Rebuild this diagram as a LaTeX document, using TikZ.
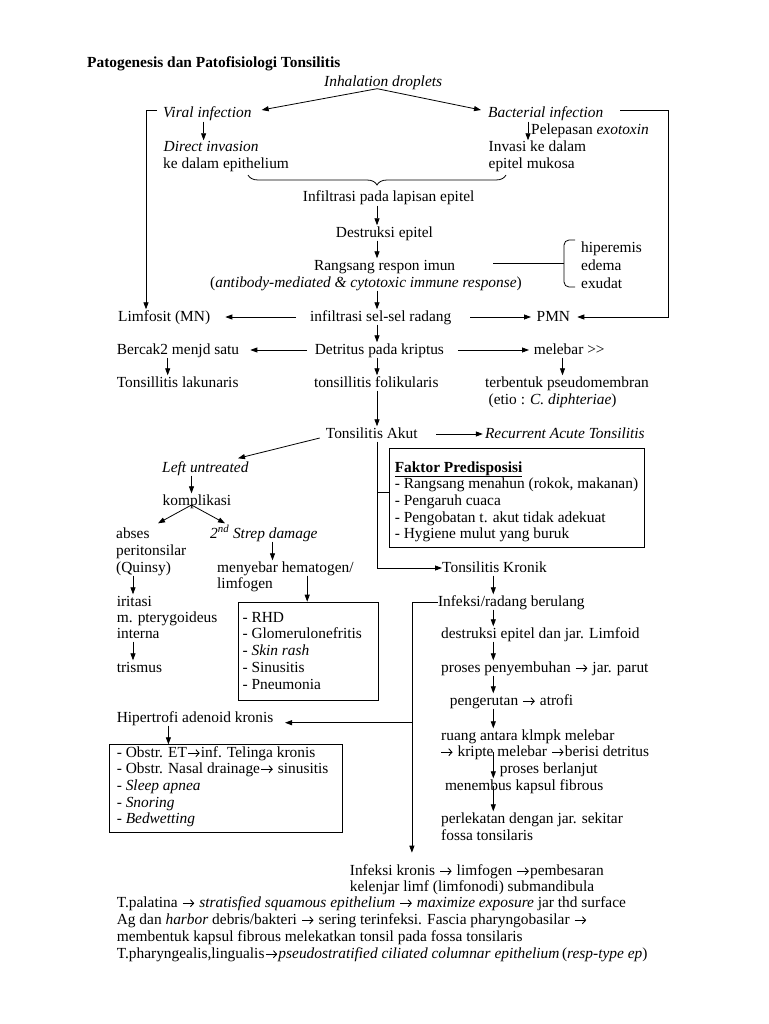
\documentclass[tikz,border=0pt]{standalone}
\usepackage{fontspec}
\setmainfont{Liberation Serif}
\usetikzlibrary{arrows.meta,calc,decorations.pathreplacing}
\newcommand\myarr{\hspace{0.8pt}\tikz[baseline=-3.8pt,x=1pt,y=1pt]{\draw[line width=0.9pt,-{Straight Barb[length=3.2pt,width=7pt,line width=0.9pt]}] (0,0) -- (11.5,0);}\hspace{0.8pt}}
\begin{document}
\begin{tikzpicture}[x=1pt,y=-1pt,
  every node/.style={font=\fontsize{15.4}{17}\selectfont},
  t/.style={inner sep=0pt, anchor=base west, text height=11.5pt, text depth=3.5pt},
  arr/.style={-{Triangle[length=7pt,width=5pt]}, line width=0.8pt},
  ln/.style={line width=0.8pt},
  box/.style={draw, line width=0.8pt, anchor=north west, inner sep=0pt}]
\fill[white] (0,0) rectangle (768,1024);
\useasboundingbox (0,0) rectangle (768,1024);

% ---------- texts ----------
\node[t,font=\fontsize{15.4}{17}\selectfont\bfseries] (title) at (87,68) {Patogenesis dan Patofisiologi Tonsilitis};
\node[t] (inh) at (324,87) {\textit{Inhalation droplets}};
\node[t] (viral) at (163,118) {\textit{Viral infection}};
\node[t] (bact) at (488,118) {\textit{Bacterial infection}};
\node[t] (pel) at (531,135) {Pelepasan \textit{exotoxin}};
\node[t] (direct) at (163.5,152) {\textit{Direct invasion}};
\node[t] (kedalam) at (163,169) {ke dalam epithelium};
\node[t] (invasi) at (488.5,152) {Invasi ke dalam};
\node[t] (mukosa) at (488.5,169) {epitel mukosa};
\node[t] (infil) at (302.7,202) {Infiltrasi pada lapisan epitel};
\node[t] (destr) at (335.7,237) {Destruksi epitel};
\node[t] (rang) at (313.8,270) {Rangsang respon imun};
\node[t] (antib) at (210,287) {(\textit{antibody-mediated \& cytotoxic immune response})};
\node[t] (hiper) at (581,252) {hiperemis};
\node[t] (edema) at (581,270) {edema};
\node[t] (exudat) at (581,288) {exudat};
\node[t] (limf) at (118,321) {Limfosit (MN)};
\node[t] (infs) at (310,321) {infiltrasi sel-sel radang};
\node[t] (pmn) at (536.5,321) {PMN};
\node[t] (bercak) at (116.6,354) {Bercak2 menjd satu};
\node[t] (detr) at (314.6,354) {Detritus pada kriptus};
\node[t] (mel) at (533.6,354) {melebar >{}>};
\node[t] (lak) at (116.6,387) {Tonsillitis lakunaris};
\node[t] (folik) at (313.8,387) {tonsillitis folikularis};
\node[t] (terb) at (484.8,387) {terbentuk pseudomembran};
\node[t] (etio) at (488.5,404) {(etio : \textit{C. diphteriae})};
\node[t] (akut) at (325.7,438) {Tonsilitis Akut};
\node[t] (rec) at (484.8,438) {\textit{Recurrent Acute Tonsilitis}};
\node[t] (lu) at (162,472) {\textit{Left untreated}};
\node[box, minimum width=255pt, minimum height=99pt] (faktor) at (388.6,448.3) {};
\node[t] (fp) at (394.6,472) {\underline{\textbf{Faktor Predisposisi}}};
\node[t] (f1) at (394.6,488) {- Rangsang menahun (rokok, makanan)};
\node[t] (f2) at (394.6,505) {- Pengaruh cuaca};
\node[t] (f3) at (394.6,522) {- Pengobatan t. akut tidak adekuat};
\node[t] (f4) at (394.6,538) {- Hygiene mulut yang buruk};
\node[t] (kompl) at (162.5,505) {komplikasi};
\node[t] (abs) at (116,538) {abses};
\node[t] (perit) at (116,555) {peritonsilar};
\node[t] (quinsy) at (116,572) {(Quinsy)};
\node[t] (strep) at (210,538) {\textit{2\textsuperscript{nd} Strep damage}};
\node[t] (meny) at (217,572) {menyebar hematogen/};
\node[t] (limfg) at (217,588) {limfogen};
\node[t] (kron) at (442,572) {Tonsilitis Kronik};
\node[t] (irit) at (116.6,606) {iritasi};
\node[t] (mpt) at (116.6,622) {m. pterygoideus};
\node[t] (intr) at (116.6,638) {interna};
\node[t] (trism) at (116.6,672) {trismus};
\node[box, minimum width=139.9pt, minimum height=98.3pt] (rhd) at (237.6,601.7) {};
\node[t] (r1) at (242.4,622) {- RHD};
\node[t] (r2) at (242.4,638) {- Glomerulonefritis};
\node[t] (r3) at (242.4,655) {- \textit{Skin rash}};
\node[t] (r4) at (242.4,672) {- Sinusitis};
\node[t] (r5) at (242.4,689) {- Pneumonia};
\node[t] (ber) at (437.8,606) {Infeksi/radang berulang};
\node[t] (dej) at (441,638) {destruksi epitel dan jar. Limfoid};
\node[t] (pros) at (441,672) {proses penyembuhan \myarr{} jar. parut};
\node[t] (peng) at (449.6,705) {pengerutan \myarr{} atrofi};
\node[t] (hip) at (116.6,722) {Hipertrofi adenoid kronis};
\node[t] (ruang) at (441,740) {ruang antara klmpk melebar};
\node[t] (kripte) at (439.6,756) {\myarr{} kripte melebar \myarr{}berisi detritus};
\node[box, minimum width=233.1pt, minimum height=87.4pt] (obs) at (109.2,744.3) {};
\node[t] (o1) at (116.6,757) {- Obstr. ET\myarr{}inf. Telinga kronis};
\node[t] (o2) at (116.6,773) {- Obstr. Nasal drainage\myarr{} sinusitis};
\node[t] (o3) at (116.6,790) {- \textit{Sleep apnea}};
\node[t] (o4) at (116.6,807) {- \textit{Snoring}};
\node[t] (o5) at (116.6,823) {- \textit{Bedwetting}};
\node[t] (pber) at (499.6,773) {proses berlanjut};
\node[t] (menem) at (444.8,790) {menembus kapsul fibrous};
\node[t] (perl) at (441,823) {perlekatan dengan jar. sekitar};
\node[t] (fossa) at (441,840) {fossa tonsilaris};
\node[t] (ikron) at (349.7,875) {Infeksi kronis \myarr{} limfogen \myarr{}pembesaran};
\node[t] (kel) at (349.7,891) {kelenjar limf (limfonodi) submandibula};
\node[t] (b1) at (116.6,907) {T.palatina \myarr{} \textit{stratisfied squamous epithelium} \myarr{} \textit{maximize exposure} jar thd surface};
\node[t] (b2) at (116.6,924) {Ag dan \textit{harbor} debris/bakteri \myarr{} sering terinfeksi. Fascia pharyngobasilar \myarr};
\node[t] (b3) at (116.6,941) {membentuk kapsul fibrous melekatkan tonsil pada fossa tonsilaris};
\node[t] (b4) at (116.6,958) {T.pharyngealis,lingualis\myarr{}\textit{pseudostratified ciliated columnar epithelium}\,(\textit{resp-type ep})};

% ---------- column coordinates ----------
\coordinate (cV) at (203.6,0);
\coordinate (cB) at (528,0);
\coordinate (cM) at (377,0);
\coordinate (cL) at (167.7,0);
\coordinate (cR) at (562.5,0);
\coordinate (cK) at (191.5,0);
\coordinate (cS) at (272.5,0);
\coordinate (cH) at (307.2,0);
\coordinate (cQ) at (133,0);
\coordinate (cC) at (493.3,0);
\coordinate (cA) at (168.4,0);
\coordinate (cX) at (411.9,0);
\coordinate (cLf) at (146,0);
\coordinate (cRf) at (668,0);

% ---------- connectors ----------
\draw[arr] ($(inh.south)+(-6,-2)$) -- ($(viral.east)+(10,-4)$);
\draw[arr] ($(inh.south)+(-6,-2)$) -- ($(bact.west)+(-7,-4)$);
\draw[arr] (viral.south -| cV) -- (direct.north -| cV);
\draw[arr] (bact.south -| cB) -- (invasi.north -| cB);
\coordinate (brL) at (248,175);
\coordinate (brR) at (506,175);
\draw[ln, decorate, decoration={brace, mirror, amplitude=10pt}] (brL) -- (brR);
\draw[arr] (infil.south -| cM) -- (destr.north -| cM);
\draw[arr] (destr.south -| cM) -- (rang.north -| cM);
\coordinate (hbr) at (564,263);
\draw[ln] ($(rang.east)+(38,-3)$) -- (hbr);
\draw[ln, rounded corners=5pt] (575,240) -- (564,240) -- (564,287) -- (575,287);
\draw[arr] (antib.south -| cM) -- (infs.north -| cM);
\draw[arr] ($(viral.west)+(-6,-4)$) -| (cLf |- limf.north);
\draw[arr] ($(bact.east)+(17,-4)$) -| (cRf |- pmn.east) -- ($(pmn.east)+(7,0)$);
\draw[arr] ($(infs.west)+(-14,0)$) -- ($(limf.east)+(15,0)$);
\draw[arr] ($(infs.east)+(18.5,0)$) -- ($(pmn.west)+(-5.5,0)$);
\draw[arr] (infs.south -| cM) -- (detr.north -| cM);
\draw[arr] ($(detr.west)+(-7.6,0)$) -- ($(bercak.east)+(11,0)$);
\draw[arr] ($(detr.east)+(13.7,0)$) -- ($(mel.west)+(-4.6,0)$);
\draw[arr] (bercak.south -| cL) -- (lak.north -| cL);
\draw[arr] (detr.south -| cM) -- (folik.north -| cM);
\draw[arr] (mel.south -| cR) -- (terb.north -| cR);
\draw[arr] (folik.south -| cM) -- (akut.north -| cM);
\draw[arr] ($(akut.east)+(18.5,0)$) -- ($(rec.west)+(-2,0)$);
\draw[arr] ($(akut.west)+(-6,4)$) -- ($(lu.north west)+(76,-2)$);
\draw[arr] (akut.south -| cM) |- (kron.west);
\coordinate (fk) at ($(faktor.west)+(0,-6)$);
\draw[ln] (fk -| cM) -- (fk);
\draw[arr] (lu.south -| cK) -- (kompl.north -| cK);
\coordinate (kap) at (kompl.base -| cK);
\draw[arr] (kap) -- ($(abs.north west)+(42,-3)$);
\draw[arr] (kap) -- ($(strep.north west)+(15,-3)$);
\draw[arr] (strep.south -| cS) -- (meny.north -| cS);
\draw[arr] (meny.south -| cH) -- (rhd.north -| cH);
\draw[arr] (quinsy.south -| cQ) -- (irit.north -| cQ);
\draw[arr] (intr.south -| cQ) -- (trism.north -| cQ);
\draw[arr] (kron.south -| cC) -- (ber.north -| cC);
\draw[arr] (ber.south -| cC) -- (dej.north -| cC);
\draw[arr] (dej.south -| cC) -- (pros.north -| cC);
\draw[arr] (pros.south -| cC) -- (peng.north -| cC);
\draw[arr] (peng.south -| cC) -- (ruang.north -| cC);
\draw[arr] (kripte.center -| cC) -- (menem.north -| cC);
\draw[arr] (menem.center -| cC) -- (perl.north -| cC);
\coordinate (xend) at (411.9,852.7);
\draw[arr] (ber.west) -| (xend);
\coordinate (hipa) at (285,722.7);
\draw[arr] (hipa -| cX) -- (hipa);
\draw[arr] (hip.south -| cA) -- (obs.north -| cA);
\end{tikzpicture}
\end{document}
